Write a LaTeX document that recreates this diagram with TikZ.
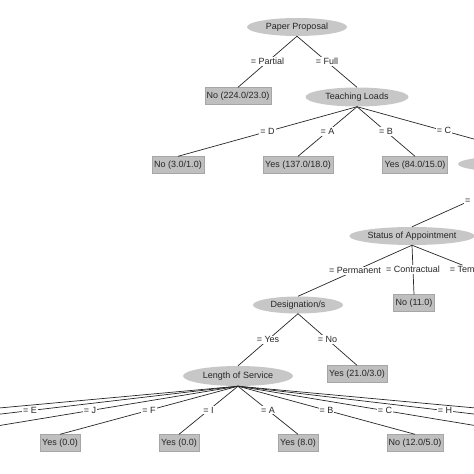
\documentclass[tikz,border=0pt]{standalone}
\usepackage{fontspec}
\setmainfont{Liberation Sans}
\usetikzlibrary{shapes.geometric}

\begin{document}
\begin{tikzpicture}[
    x=1pt, y=-1pt,
    attr/.style={ellipse, fill=black!22, inner sep=0pt, font=\fontsize{9}{10}\selectfont, text=black!85},
    leaf/.style={draw=black!35, fill=black!25, minimum height=17pt, inner xsep=2pt, inner ysep=0pt, font=\fontsize{9}{10}\selectfont, text=black!85},
    lbl/.style={fill=white, inner sep=1pt, pos=0.5, font=\fontsize{9}{10}\selectfont, text=black!85},
    branch/.style={black!85, line width=0.7pt}
]
\useasboundingbox (0,0) rectangle (474,474);
\clip (0,0) rectangle (474,474);

% Attribute nodes
\node[attr, minimum width=100pt, minimum height=18pt] (paper) at (297,27) {Paper Proposal};
\node[attr, minimum width=103pt, minimum height=19pt] (teach) at (357,97) {Teaching Loads};
\node[attr, minimum width=146pt, minimum height=18pt] (hidden) at (531,164) {};
\node[attr, minimum width=124pt, minimum height=18pt] (status) at (412,236) {Status of Appointment};
\node[attr, minimum width=90pt, minimum height=17pt] (desig) at (298,305) {Designation/s};
\node[attr, minimum width=110pt, minimum height=20pt] (length) at (238,376) {Length of Service};

% Leaves
\node[leaf] (noPartial) at (238,96) {No (224.0/23.0)};
\node[leaf] (noD) at (178,165) {No (3.0/1.0)};
\node[leaf] (yesA) at (298,165) {Yes (137.0/18.0)};
\node[leaf] (yesB) at (415,165) {Yes (84.0/15.0)};
\node[leaf] (noContr) at (414,303) {No (11.0)};
\node[leaf] (yesNo) at (357,374) {Yes (21.0/3.0)};
\node[leaf] (yesF) at (60,443) {Yes (0.0)};
\node[leaf] (yesI) at (179,443) {Yes (0.0)};
\node[leaf] (yesLA) at (298,443) {Yes (8.0)};
\node[leaf] (noLB) at (415,443) {No (12.0/5.0)};

% Off-picture ends
\coordinate (temp) at (538,295);
\coordinate (farL) at (-297,435);
\coordinate (leafE) at (-178,435);
\coordinate (leafJ) at (-58,435);
\coordinate (leafC) at (532,435);
\coordinate (leafH) at (652,435);
\coordinate (farR) at (770,435);

% Branches
\draw[branch] (paper.south) -- node[lbl] {= Partial} (noPartial.north);
\draw[branch] (paper.south) -- node[lbl] {= Full} (teach.north);

\draw[branch] (teach.south) -- node[lbl] {= D} (noD.north);
\draw[branch] (teach.south) -- node[lbl] {= A} (yesA.north);
\draw[branch] (teach.south) -- node[lbl] {= B} (yesB.north);
\draw[branch] (teach.south) -- node[lbl] {= C} (hidden.north);

\draw[branch] (hidden.south) -- node[lbl] {=\phantom{ 1}} (status.north);

\draw[branch] (status.south) -- node[lbl] {= Permanent} (desig.north);
\draw[branch] (status.south) -- node[lbl] {= Contractual} (noContr.north);
\draw[branch] (status.south) -- node[lbl] {= Temporary} (temp);

\draw[branch] (desig.south) -- node[lbl] {= Yes} (length.north);
\draw[branch] (desig.south) -- node[lbl] {= No} (yesNo.north);

% Length of Service, outer branches first
\draw[branch] (length.south) -- (farL);
\draw[branch] (length.south) -- (farR);
\draw[branch] (length.south) -- node[lbl] {= E} (leafE);
\draw[branch] (length.south) -- node[lbl] {= H} (leafH);
\draw[branch] (length.south) -- node[lbl] {= J} (leafJ);
\draw[branch] (length.south) -- node[lbl] {= C} (leafC);
\draw[branch] (length.south) -- node[lbl] {= F} (yesF.north);
\draw[branch] (length.south) -- node[lbl] {= B} (noLB.north);
\draw[branch] (length.south) -- node[lbl] {= I} (yesI.north);
\draw[branch] (length.south) -- node[lbl] {= A} (yesLA.north);

\end{tikzpicture}
\end{document}
